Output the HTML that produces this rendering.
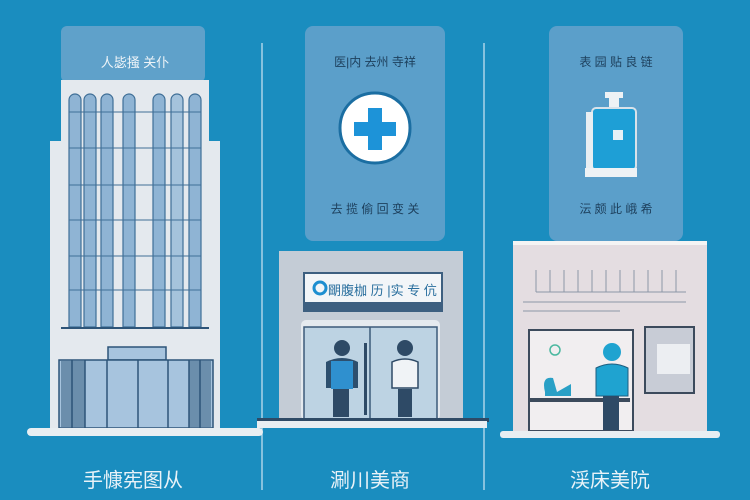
<!DOCTYPE html>
<html><head><meta charset="utf-8"><style>
body{margin:0;width:750px;height:500px;overflow:hidden;background:#1a8dbf;font-family:"Liberation Sans","Noto Sans CJK SC",sans-serif;}
.a{position:absolute;}
.lbl{position:absolute;color:#e8f2f8;font-size:20px;text-align:center;width:200px;}
.pt{position:absolute;color:#1d3f5c;font-size:12px;text-align:center;}
</style></head><body>
<svg class="a" style="left:0;top:0" width="750" height="500">
<!-- dividers -->
<line x1="262" y1="43" x2="262" y2="490" stroke="#cfe6f2" stroke-width="1.2"/>
<line x1="484" y1="43" x2="484" y2="490" stroke="#cfe6f2" stroke-width="1.2"/>
<!-- left building -->
<rect x="61" y="26" width="144" height="56" rx="6" fill="#5fa1ca"/>
<rect x="61" y="80" width="148" height="350" fill="#e4e9ee"/>
<rect x="50" y="141" width="170" height="289" fill="#e4e9ee"/>
<g fill="#8fb4d4" stroke="#3f6f97" stroke-width="1.2">
<path d="M69 327V100a6 6 0 0 1 12 0V327Z"/>
<path d="M84 327V100a6 6 0 0 1 12 0V327Z"/>
<path d="M101 327V100a6 6 0 0 1 12 0V327Z"/>
<path d="M123 327V100a6 6 0 0 1 12 0V327Z"/>
<path d="M153 327V100a6 6 0 0 1 12 0V327Z"/>
<path d="M171 327V100a6 6 0 0 1 12 0V327Z" fill="#a5c3dc"/>
<path d="M189 327V100a6 6 0 0 1 12 0V327Z"/>
</g>
<g stroke="#3f6f97" stroke-width="1">
<line x1="69" y1="112" x2="201" y2="112"/><line x1="69" y1="148" x2="201" y2="148"/>
<line x1="69" y1="185" x2="201" y2="185"/><line x1="69" y1="220" x2="201" y2="220"/>
<line x1="69" y1="256" x2="201" y2="256"/><line x1="69" y1="290" x2="201" y2="290"/>
</g>
<line x1="61" y1="328" x2="209" y2="328" stroke="#2d5478" stroke-width="2"/>
<rect x="108" y="347" width="58" height="13" fill="#a7c4de" stroke="#2d5478" stroke-width="1.5"/>
<rect x="59" y="360" width="154" height="68" fill="#a7c4de" stroke="#2d5478" stroke-width="1.5"/>
<rect x="61" y="361" width="24" height="66" fill="#6b8eac"/>
<rect x="189" y="361" width="22" height="66" fill="#6b8eac"/>
<g stroke="#2d5478" stroke-width="1.5"><line x1="72" y1="360" x2="72" y2="428"/><line x1="85" y1="360" x2="85" y2="428"/><line x1="107" y1="360" x2="107" y2="428"/><line x1="138" y1="360" x2="138" y2="428"/><line x1="168" y1="360" x2="168" y2="428"/><line x1="189" y1="360" x2="189" y2="428"/><line x1="200" y1="360" x2="200" y2="428"/></g>
<rect x="27" y="428" width="236" height="8" rx="4" fill="#e8eef2"/>
<!-- middle panel -->
<rect x="305" y="26" width="140" height="215" rx="8" fill="#5b9fca"/>
<path d="M375 93c20 0 35 15 35 35s-15 35-35 35-35-15-35-35 15-35 35-35z" fill="#fff" stroke="#1b6ea2" stroke-width="3"/>
<path d="M368 108h14v14h14v14h-14v14h-14v-14h-14v-14h14z" fill="#1d93d8"/>
<!-- middle building -->
<rect x="279" y="251" width="184" height="168" fill="#c4ccd6"/>
<rect x="303" y="272" width="140" height="40" fill="#3d5f80"/>
<rect x="305" y="274" width="136" height="28" fill="#f2f5f8"/>
<circle cx="320" cy="288" r="6" fill="none" stroke="#1d8ed0" stroke-width="3"/>
<rect x="301" y="320" width="139" height="100" rx="5" fill="#e5eaef"/>
<rect x="304" y="327" width="133" height="92" fill="#bdd3e3" stroke="#3c5b7a" stroke-width="1.5"/>
<line x1="370" y1="327" x2="370" y2="419" stroke="#3c5b7a" stroke-width="1.5"/>
<rect x="364" y="343" width="3" height="72" fill="#2e4a66"/>
<circle cx="342" cy="348" r="8" fill="#2e4a66"/>
<path d="M326 362q16-8 32 0v26h-32z" fill="#2d4f6e"/>
<rect x="331" y="361" width="22" height="28" fill="#2f90cf"/>
<rect x="333" y="389" width="16" height="28" fill="#2e4a66"/>
<circle cx="405" cy="348" r="8" fill="#2e4a66"/>
<path d="M392 362q13-6 26 0v26h-26z" fill="#f0f3f6" stroke="#2e4a66" stroke-width="1.5"/>
<rect x="398" y="389" width="14" height="28" fill="#2e4a66"/>
<rect x="257" y="418" width="232" height="4" fill="#2e4a66"/>
<rect x="257" y="421" width="230" height="7" fill="#e8eef2"/>
<!-- right panel -->
<rect x="549" y="26" width="134" height="215" rx="8" fill="#5b9fca"/>
<path d="M605 92h18v6h-4v12h-10v-12h-4z" fill="#eef2f5"/>
<rect x="592" y="108" width="44" height="62" rx="4" fill="#1e9fd6" stroke="#d8e2ea" stroke-width="2"/>
<rect x="586" y="112" width="7" height="60" fill="#e8eef2"/>
<rect x="585" y="168" width="52" height="9" fill="#eef2f5"/>
<rect x="613" y="130" width="10" height="10" fill="#e6f0f6"/>
<!-- right building -->
<rect x="513" y="241" width="194" height="190" fill="#e4dde1"/>
<rect x="513" y="241" width="194" height="4" fill="#f4f4f4"/>
<g stroke="#8c96a6" stroke-width="1"><line x1="536" y1="292" x2="686" y2="292"/>
<line x1="536" y1="270" x2="536" y2="292"/><line x1="550" y1="270" x2="550" y2="292"/><line x1="564" y1="270" x2="564" y2="292"/><line x1="578" y1="270" x2="578" y2="292"/><line x1="592" y1="270" x2="592" y2="292"/><line x1="606" y1="270" x2="606" y2="292"/><line x1="620" y1="270" x2="620" y2="292"/><line x1="634" y1="270" x2="634" y2="292"/><line x1="648" y1="270" x2="648" y2="292"/><line x1="662" y1="270" x2="662" y2="292"/><line x1="676" y1="270" x2="676" y2="292"/>
<line x1="523" y1="302" x2="686" y2="302"/><line x1="523" y1="311" x2="620" y2="311"/></g>
<rect x="529" y="330" width="104" height="101" fill="#f1eef0" stroke="#3c4a5c" stroke-width="2"/>
<rect x="645" y="327" width="49" height="66" fill="#c8ccd6" stroke="#3c4a5c" stroke-width="2"/>
<rect x="657" y="344" width="33" height="30" fill="#eceef2"/>
<rect x="530" y="398" width="100" height="4" fill="#3c4a5c"/>
<path d="M545 392q-4-16 8-14l4 14 14-8v12h-26z" fill="#2aa0c6"/>
<circle cx="555" cy="350" r="5" fill="none" stroke="#4bb8a0" stroke-width="1.5"/>
<circle cx="612" cy="352" r="9" fill="#1fa3d0"/>
<path d="M596 368q16-8 32 0v28h-32z" fill="#1fa3d0" stroke="#1d5e80" stroke-width="1"/>
<rect x="603" y="396" width="16" height="34" fill="#2e4a66"/>
<rect x="500" y="431" width="220" height="7" rx="3" fill="#e8eef2"/>
</svg>
<div class="pt" style="left:80px;top:52px;width:110px;color:#eef4f8;font-size:13px">人毖掻 关仆</div>
<div class="pt" style="left:315px;top:53px;width:120px">医|内 去州 寺祥</div>
<div class="pt" style="left:315px;top:200px;width:120px">去 揽 偷 回 变 关</div>
<div class="pt" style="left:560px;top:53px;width:112px">表 园 贴 良 链</div>
<div class="pt" style="left:560px;top:200px;width:112px">沄 颇 此 峨 希</div>
<div class="pt" style="left:328px;top:280px;width:112px;color:#2a6f9e;font-size:13px;text-align:left">朙腹枷 历 |实 专 伉</div>
<div class="lbl" style="left:33px;top:464px">手慷宪图从</div>
<div class="lbl" style="left:270px;top:464px">涮川美商</div>
<div class="lbl" style="left:510px;top:464px">渓床美阬</div>
</body></html>
